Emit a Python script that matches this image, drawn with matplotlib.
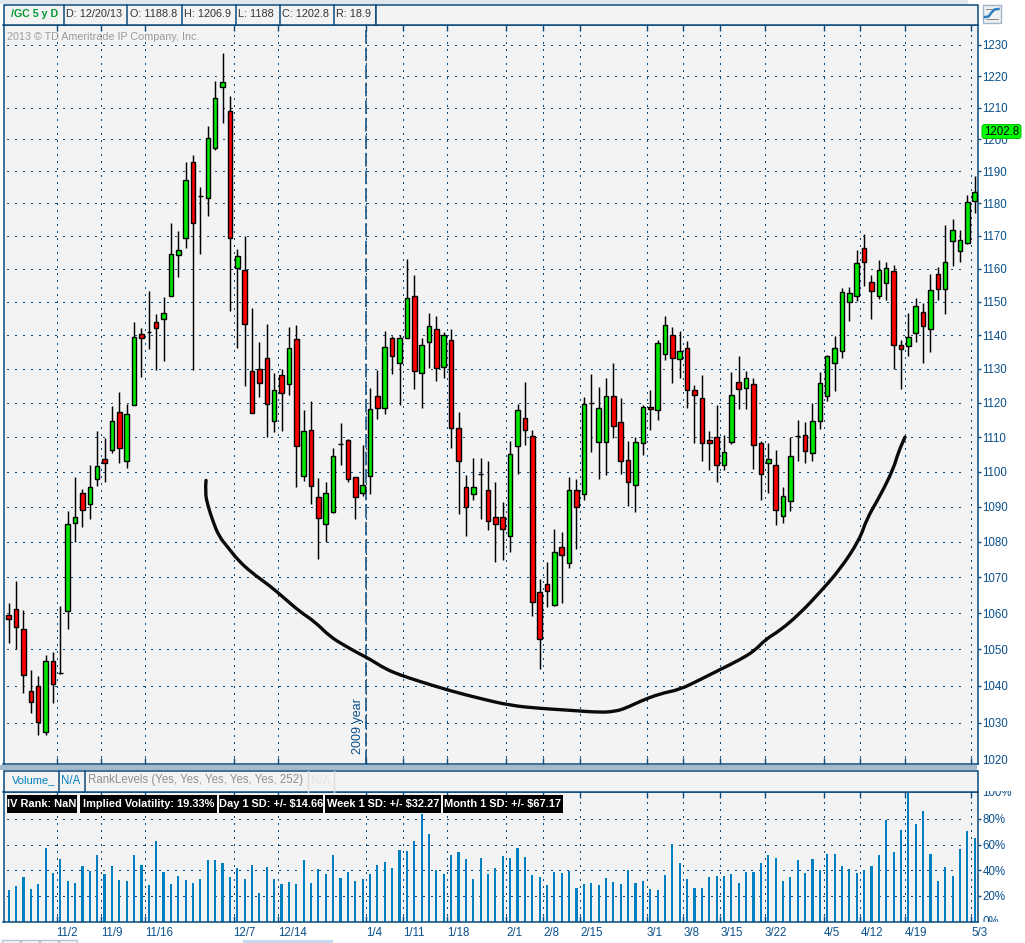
# gold futures daily candles with volume panel, thinkorswim style
import matplotlib
matplotlib.use("Agg")
import matplotlib.pyplot as plt
from matplotlib.patches import Rectangle, FancyBboxPatch, PathPatch
from matplotlib.path import Path
from matplotlib.ticker import NullLocator
from matplotlib.transforms import Bbox

plt.rcParams["font.family"] = ["Liberation Sans", "DejaVu Sans"]

W = 1025
H = 943
NAVY = "#0b4a7c"
TICK_BLUE = "#0a4f8a"
PANEL = "#f3f3f3"

# candles
opens = [1059.4,1061.1,1055.6,1038.6,1040,1027.5,1046.9,1043.4,1060.6,1085.4,
         1094,1090.6,1098,1103.8,1106.2,1117.2,1103,1119.4,1140.3,1141.1,
         1144.1,1145,1151.8,1164.2,1169.4,1192.8,1182.3,1181.6,1197.2,1216.6,
         1208.8,1160.2,1159.6,1129.3,1129.9,1133.1,1114.6,1128.2,1125.5,1138.8,
         1098.8,1112,1092.6,1085.1,1088.5,1108,1109.1,1098.6,1094,1098.8,
         1122,1118.6,1139.1,1131.6,1139.1,1151.8,1128.9,1138,1142,1130.7,
         1138.5,1112.6,1095.6,1093.5,1099.2,1094.6,1086.9,1086.9,1081.7,1107.4,
         1115.7,1110.3,1065.8,1068.2,1062.4,1078.6,1073.9,1094.6,1093.7,1119.9,
         1108.6,1108.6,1122,1114.3,1103.5,1096.3,1108.3,1118.8,1118,1134.5,
         1140,1132.9,1136.1,1123.8,1121.5,1109.1,1110,1101.8,1108.6,1126.2,
         1124.5,1125.6,1108.3,1102.6,1102,1087.4,1091.7,1110.4,1110.6,1105.3,
         1114.6,1122,1131.8,1135.2,1150,1151.8,1166.4,1156.1,1151.8,1155.7,
         1159.4,1137,1136.7,1140.6,1147,1141.8,1158.5,1154,1168.5,1165.4,
         1167.9,1180.9]
highs = [1062.9,1069,1060.8,1044.4,1042.8,1048.4,1049.2,1062,1088.6,1098.6,
         1095.1,1101.8,1111.7,1109.7,1119.1,1123.2,1119.8,1144.1,1142.1,1153.3,
         1146.5,1151.5,1174.1,1171.6,1192.8,1195.1,1185,1204.2,1218.4,1227.3,
         1213.7,1166,1170,1148.2,1138,1143.5,1128.8,1130,1142.6,1143,
         1118,1120.6,1098.3,1096.9,1106.9,1114.2,1109.5,1098.6,1107.8,1124.5,
         1129.6,1141.2,1139.7,1140,1163,1158.2,1139.1,1146.6,1145.7,1140.9,
         1141.8,1117.4,1099.1,1104,1104,1103.2,1096.9,1091.4,1108.9,1119.8,
         1126.2,1112,1069.4,1074.2,1083.7,1082.9,1098.4,1097.8,1121.8,1128.6,
         1124.8,1127.4,1131.6,1121.5,1108.9,1110,1119.4,1123.9,1138.5,1145.7,
         1142.4,1141.2,1138.2,1125.1,1128.2,1111.7,1119.4,1110.6,1129.1,1133.9,
         1129.5,1127.4,1108.9,1108.3,1106.3,1095.7,1110,1114.9,1114.3,1120,
         1129.1,1134.2,1139.7,1154.2,1154.6,1165.8,1170.6,1158.2,1162.7,1162.1,
         1161.2,1138.5,1146.8,1151.2,1149.7,1158.5,1160.6,1173.4,1175.3,1171.9,
         1182.5,1188.4]
lows = [1051.7,1050.1,1038,1032.7,1026.6,1026.6,1035.5,1043.2,1055.5,1080,
        1084.2,1086.5,1095.9,1097,1105.5,1102.6,1101,1119.4,1127.5,1136,
        1129.8,1132.2,1151.8,1157.4,1166.4,1129.8,1164.6,1176.1,1196.6,1205.2,
        1147.3,1136.1,1125,1116.9,1121.7,1110,1111.6,1111.9,1122.2,1095.7,
        1097.3,1090.8,1075.2,1079.9,1088.2,1102,1097,1086.4,1093,1093.6,
        1115.2,1116.7,1128.5,1119.3,1139.1,1124,1118.4,1130.4,1126.3,1127.3,
        1106.7,1088,1081.6,1092,1086.4,1083.2,1074.4,1074.9,1077.1,1099.4,
        1107.6,1059.1,1044.5,1061.8,1062.1,1062.9,1072.7,1078,1091.9,1105.6,
        1097.9,1099,1109.8,1099.4,1090.2,1088.5,1104.8,1112.2,1115,1132.7,
        1125.9,1127.3,1118.5,1108.2,1103.1,1100.5,1097,1100.6,1108.1,1118.2,
        1118.2,1100.7,1092,1094,1084.8,1085.4,1088.6,1103.1,1102.4,1103.1,
        1112.3,1120.6,1123.5,1133.2,1144.3,1150.3,1154.7,1145,1150.9,1150.5,
        1130,1124,1133.8,1138.1,1131.7,1135,1150.7,1146.3,1160.8,1162,
        1167.6,1177.2]
closes = [1058.5,1056.3,1043,1035.6,1030.3,1046.9,1040.5,1043.4,1084.9,1087.1,
          1089.1,1095.7,1101.5,1102.5,1114.6,1106.8,1116.6,1139.4,1139.3,1141.1,
          1142.1,1146.8,1164.5,1165.7,1187.2,1174.1,1182.3,1200.3,1213.1,1218.1,
          1169.4,1163.9,1143.4,1116.9,1125.9,1119.7,1123.7,1122.9,1136.3,1107.4,
          1111.7,1096,1086.6,1094,1104.5,1108,1098,1092.6,1096.3,1118.3,
          1118.6,1136.6,1133.7,1139.1,1151.2,1129.5,1137,1142.9,1130.4,1140,
          1112.6,1103.2,1089.8,1095.5,1099.2,1085.8,1084.9,1083.6,1105,1118,
          1112,1063,1052.8,1066.3,1077.2,1076.4,1094.6,1090,1119.7,1119.9,
          1118.6,1122,1113.2,1103.2,1097.1,1108.6,1118.8,1118.3,1137.6,1143.2,
          1133.1,1135.2,1123.8,1122.3,1108.3,1108.3,1101.8,1105.6,1122.4,1124.2,
          1127.4,1107.7,1099.4,1103.8,1088.9,1092.9,1104.4,1110.4,1105.9,1114.6,
          1125.9,1133.9,1136.1,1153,1152.7,1161.8,1162.1,1153.3,1159.7,1160.3,
          1137,1135.8,1139.4,1148.8,1142.9,1153.6,1153.9,1162.1,1171.9,1168.8,
          1180.6,1183.4]

# relative volume in percent, one bar per candle
volume = [24.4,27.5,34.5,25.1,29,57,37.6,48.4,31.3,29.8,43,39.1,51.6,36.8,43,
          32.1,31.3,51.6,43.8,28.2,62.4,38.3,29,35.2,32.1,29.8,32.9,47.7,47.7,45.3,
          34.5,41.5,32.9,43.8,22,42.2,32.9,29,30.6,29,47.7,29.8,40.7,36.8,51.6,
          33.7,38.3,31.3,32.9,36.8,43.8,46.1,41.5,55.4,54.7,62.4,84,67.9,39.9,36.8,
          51.6,53.9,48.4,32.9,49.2,36.8,41.5,50.8,49.2,57,50,36,34.5,28.2,38.3,
          37.6,39.1,25.9,29,29.8,28.2,33.7,30.6,29,39.9,29.8,31.3,25.1,24.4,36,
          60.1,45.3,32.9,25.9,25.9,34.5,35.2,35.2,36.8,29.8,38.3,38.3,45.3,51.6,49.2,
          31.3,34.5,47.7,37.6,48.4,39.9,52.3,52.3,43,40.7,37.6,39.9,43,51.6,78.8,
          53.9,71,100,75.6,85.8,52.3,31.3,42.2,35.2,56.2,70.2,64.8]

# week gridlines sit half a candle before these candles
tick_candles = [7,13,19,31,37,49,54,60,68,73,78,87,92,97,103,111,116,122,131]
tick_labels = ["11/2","11/9","11/16","12/7","12/14","1/4","1/11","1/18","2/1","2/8",
               "2/15","3/1","3/8","3/15","3/22","4/5","4/12","4/19","5/3"]
price_ticks = [1030,1040,1050,1060,1070,1080,1090,1100,1110,1120,1130,1140,1150,
               1160,1170,1180,1190,1200,1210,1220,1230]
vol_ticks = [20,40,60,80]

# hand drawn curve on the chart
curve_x = [26.76,26.62,27.03,27.7,28.52,29.74,31.1,33,35.44,37.47,39.5,41.54,43.57,
           45.6,47.64,49,51.03,53.06,55.78,59.85,63.9,68,72.05,76.1,80.2,82.2,83.6,
           85.6,88.3,91,93.75,96.5,99.2,101.2,102.6,104.6,107.3,110,112.7,115.4,
           116.35,118.16,119.96,120.64,121.55]
curve_y = [1097.5,1094,1090.1,1085.8,1081.5,1078.4,1074.8,1071.2,1067.6,1064,1060.4,
           1057.6,1053.5,1051,1048.7,1047.3,1044.7,1043,1041.2,1038.7,1036.6,1034.7,
           1033.9,1033.4,1032.8,1033.1,1033.9,1035.8,1037.9,1039,1041.7,1044.5,
           1047.2,1049.7,1052.7,1055.2,1059.9,1065.8,1072.1,1080.6,1086.5,1093,
           1100.7,1105.6,1110]

# header and study labels
header_labels = ["/GC 5 y D", "D: 12/20/13", "O: 1188.8", "H: 1206.9", "L: 1188",
                 "C: 1202.8", "R: 18.9"]
header_edges = [3.5, 63.5, 126.5, 181.5, 235.5, 279.5, 333.5, 375.5]
black_labels = ["IV Rank: NaN", "Implied Volatility: 19.33%", "Day 1 SD: +/- $14.66",
                "Week 1 SD: +/- $32.27", "Month 1 SD: +/- $67.17"]
black_edges = [(7, 77), (80, 217), (219, 323), (325, 441), (443, 563)]


def px_axes(left, top, right, bottom):
    return fig.add_axes([left / W, 1 - bottom / H, (right - left) / W, (bottom - top) / H])


fig = plt.figure(figsize=(W / 100, H / 100), dpi=100, facecolor="white")

x_left = (3.5 - 8.7) / 7.374
x_right = (978.3 - 8.7) / 7.374
grid_x = [c - 0.5 for c in tick_candles]
candles = list(range(len(closes)))
dots_h = (0, (1, 6))
dots_v = (0, (1, 5.2))

# price panel
ax = px_axes(3.5, 24.5, 978.3, 763.5)
ax.set_facecolor(PANEL)
ax.set_yscale("log")
ax.set_xlim(x_left, x_right)
ax.set_ylim(1019.1, 1236.6)
ax.yaxis.set_minor_locator(NullLocator())
ax.yaxis.tick_right()
ax.set_yticks(price_ticks)
ax.set_yticklabels([str(p) for p in price_ticks])
ax.tick_params(axis="y", which="major", direction="out", length=2.5, width=1, color=NAVY,
               labelcolor=TICK_BLUE, labelsize=8.3, pad=0.5)
ax.set_xticks(grid_x)
ax.set_xticklabels([])
ax.tick_params(axis="x", which="major", direction="in", length=4, width=1, color=NAVY,
               top=True, bottom=True)
ax.hlines(price_ticks, -0.2, 129.6, color=NAVY, lw=0.75, linestyles=dots_h, antialiased=False,
          zorder=1)
ax.vlines(grid_x, 1019.1, 1236.6, color=NAVY, lw=0.75, linestyles=dots_v, antialiased=False,
          zorder=1)
ax.axvline(48.5, color=NAVY, lw=1.1, linestyle=(0, (9, 2.5)), zorder=1)

colors = []
for o, c in zip(opens, closes):
    if c > o:
        colors.append("#00e800")
    elif c < o:
        colors.append("#ff0000")
    else:
        colors.append("black")
ax.vlines(candles, lows, highs, color="black", lw=1.05, zorder=2)
ax.bar(candles, [abs(c - o) for o, c in zip(opens, closes)],
       bottom=[min(o, c) for o, c in zip(opens, closes)], width=0.62,
       color=colors, edgecolor="black", linewidth=1.0, zorder=3)

# the smile, smoothed with quadratic segments between midpoints
verts = [(curve_x[0], curve_y[0])]
codes = [Path.MOVETO]
for i in range(1, len(curve_x) - 1):
    verts.append((curve_x[i], curve_y[i]))
    codes.append(Path.CURVE3)
    verts.append(((curve_x[i] + curve_x[i + 1]) / 2, (curve_y[i] + curve_y[i + 1]) / 2))
    codes.append(Path.CURVE3)
verts.append((curve_x[-1], curve_y[-1]))
codes.append(Path.LINETO)
ax.add_patch(PathPatch(Path(verts, codes), fill=False, edgecolor="#0a0a0a", lw=2.4,
                       capstyle="round", joinstyle="round", zorder=4))
for side in ax.spines.values():
    side.set_color(NAVY)
    side.set_linewidth(1.1)

# volume panel
vol = px_axes(3.5, 791.5, 978.3, 921.5)
vol.set_facecolor(PANEL)
vol.set_xlim(x_left, x_right)
vol.set_ylim(0, 101.3)
vol.yaxis.tick_right()
vol.set_yticks(vol_ticks)
vol.set_yticklabels([str(v) + "%" for v in vol_ticks])
vol.tick_params(axis="y", direction="out", length=2.5, width=1, color=NAVY,
                labelcolor=TICK_BLUE, labelsize=8.3, pad=0.5)
vol.set_xticks(grid_x)
vol.set_xticklabels(tick_labels, ha="left")
vol.tick_params(axis="x", direction="in", length=4, width=1, color=NAVY, top=True,
                bottom=True, labelcolor=TICK_BLUE, labelsize=8.3, pad=4)
vol.hlines(vol_ticks, -0.2, 129.6, color=NAVY, lw=0.75, linestyles=dots_h, antialiased=False,
           zorder=1)
vol.vlines(grid_x, 0, 101.3, color=NAVY, lw=0.75, linestyles=dots_v, antialiased=False, zorder=1)
vol.bar(candles, volume, width=0.29, color="#0080c0", zorder=2)
for side in vol.spines.values():
    side.set_color(NAVY)
    side.set_linewidth(1.1)

# everything around the panels, in screen pixels
top = fig.add_axes([0, 0, 1, 1], zorder=5)
top.set_xlim(0, W)
top.set_ylim(H, 0)
top.axis("off")
top.patch.set_visible(False)

# strip at the very top
top.add_patch(Rectangle((0, 0), 968, 3.5, facecolor="#dfe6ec", edgecolor="none"))

# header boxes
top.add_patch(Rectangle((3.5, 4.5), 372, 20, facecolor=PANEL, edgecolor=NAVY, lw=1.1))
for e in header_edges[1:-1]:
    top.plot([e, e], [4.5, 24.5], color=NAVY, lw=1.1)
top.add_patch(Rectangle((375.5, 4.5), 602.8, 20, facecolor=PANEL, edgecolor=NAVY, lw=1.1))
for i, label in enumerate(header_labels):
    if i == 0:
        top.text(35, 14, label, color="#009933", fontsize=7.7, fontweight="bold",
                 ha="center", va="center")
    else:
        top.text(header_edges[i] + 3, 14, label, color="#333333", fontsize=7.8,
                 ha="left", va="center")
top.text(7, 37.5, "2013 \u00a9 TD Ameritrade IP Company, Inc.", color="#9a9a9a",
         fontsize=7.75, ha="left", va="center")

# study icon, top right
top.add_patch(Rectangle((983, 5), 17.5, 17.5, facecolor="#f0f0f0", edgecolor="#9fb4c8", lw=1))
top.plot([985.5, 998], [8.5, 8.5], color="#888888", lw=0.7)
top.plot([985.5, 998], [18.5, 18.5], color="#888888", lw=0.7)
top.plot([985, 988.5, 991.5, 994.5, 998.5], [17, 16.5, 12.5, 9.5, 9], color="#2e7fc2", lw=1.8)

# last price tag
top.add_patch(FancyBboxPatch((982, 124.5), 39, 14, boxstyle="round,pad=0,rounding_size=2.5",
                             facecolor="#00ff00", edgecolor="#00c000", lw=0.7))
top.text(1001.5, 131.7, "1202.8", color="black", fontsize=8.3, ha="center", va="center")

# labels cut off by the panel edges
for x, y, s, box in [(982.5, 761.5, "1020", (980, 740, 1025, 764)),
                     (982.5, 793, "100%", (980, 791, 1025, 810)),
                     (982.5, 922, "0%", (980, 910, 1025, 922))]:
    t = top.text(x, y, s, color=TICK_BLUE, fontsize=8.3, ha="left", va="center")
    t.set_clip_on(True)
    t.set_clip_box(Bbox([[box[0], H - box[3]], [box[2], H - box[1]]]))

# separator between the panels
top.add_patch(Rectangle((0, 765), 977, 4.5, facecolor="#a3bacd", edgecolor="none", hatch="....",
                        lw=0))

# lower panel header
top.add_patch(Rectangle((3.5, 771), 974.8, 20.5, facecolor=PANEL, edgecolor=NAVY, lw=1.1))
for e in [58.5, 84.5]:
    top.plot([e, e], [771, 791.5], color=NAVY, lw=1.1)
for e in [307.5, 333.5]:
    top.plot([e, e], [771, 791.5], color="#dcdcdc", lw=1)
top.text(12, 780.5, "Volume_", color="#0080c0", fontsize=8, ha="left", va="center")
top.text(61.5, 780.5, "N/A", color="#0080c0", fontsize=8.3, ha="left", va="center")
top.text(87.5, 780.5, "RankLevels (Yes, Yes, Yes, Yes, Yes, 252)", color="#909090",
         fontsize=8.3, ha="left", va="center")
top.text(311, 780.5, "N/A", color="#e2e2e2", fontsize=8.3, ha="left", va="center")

# black study labels
for (a, b), label in zip(black_edges, black_labels):
    top.add_patch(Rectangle((a, 795), b - a, 18, facecolor="black", edgecolor="none"))
    top.text((a + b) / 2, 804.2, label, color="white", fontsize=7.9, fontweight="bold",
             ha="center", va="center")

# rotated expiry note
top.text(358.5, 754, "2009 year", color=TICK_BLUE, fontsize=9, rotation=90,
         ha="center", va="bottom")

# toolbar scraps at the bottom
for a in [2, 21, 40, 59]:
    top.add_patch(Rectangle((a, 939.5), 17.5, 5, facecolor="#f4f4f4", edgecolor="#b4c4d4", lw=1))
top.add_patch(Rectangle((243, 940), 90, 3, facecolor="#c4d8f0", edgecolor="none"))

fig.savefig("out.png", dpi=100, facecolor="white")
